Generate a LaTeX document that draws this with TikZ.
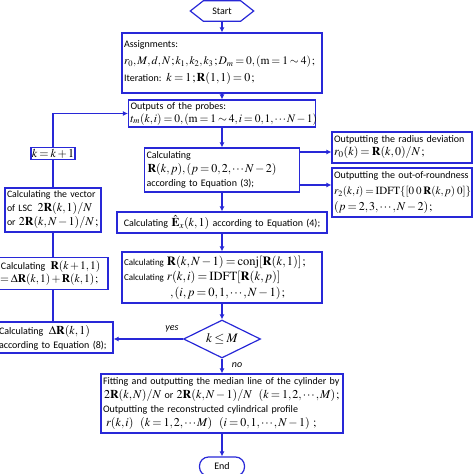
\documentclass[tikz,border=0pt]{standalone}
\usepackage{mathptmx}
\usepackage[no-math]{fontspec}
\setmainfont{Carlito}
\usetikzlibrary{shapes.geometric,arrows.meta}
\definecolor{bl}{RGB}{40,40,215}
\newcommand{\mth}[2][12]{\mbox{\fontsize{#1}{12}\selectfont\thickmuskip=3mu\medmuskip=2mu\thinmuskip=1.5mu$#2$}}
\begin{document}
\begin{tikzpicture}[x=1pt,y=-1pt,
  box/.style={draw=bl, line width=1.2pt, inner sep=2pt, align=left, font=\fontsize{10}{14}\selectfont},
  arr/.style={draw=bl, line width=1.2pt, -{Latex[length=5pt,width=5pt]}},
  ln/.style={draw=bl, line width=1.2pt},
  lab/.style={font=\fontsize{10}{11}\selectfont\itshape}]
\useasboundingbox (0,0) rectangle (474,474);
% main column
\node[minimum width=63pt, minimum height=20pt, inner sep=0, font=\fontsize{10}{11}\selectfont] (start) at (222,11) {Start};
\draw[bl, line width=1.2pt] (start.west) -- ([xshift=13pt]start.north west) -- ([xshift=-13pt]start.north east) -- (start.east) -- ([xshift=-13pt]start.south east) -- ([xshift=13pt]start.south west) -- cycle;
\node[box, text width=196pt, minimum height=60pt, font=\fontsize{10}{17}\selectfont] (assign) at (222,63)
  {Assignments:\\ \mth[11.5]{r_0,M,d,N\,;k_1,k_2,k_3\,;D_m=0,(\mathrm{m}=1\sim4)\,;}\\ Iteration: \mth{k=1\,;\mathbf{R}(1,1)=0\,;}};
\node[box, text width=183pt, minimum height=27pt, font=\fontsize{10}{13}\selectfont] (probes) at (222,113.5)
  {Outputs of the probes:\\ \mth[11.5]{t_m(k,i)=0,(\mathrm{m}=1\sim4,i=0,1,\cdots N-1)}};
\node[box, text width=151pt, minimum height=44pt] (calcR) at (222,170)
  {Calculating\\ \mth[12]{\,\mathbf{R}(k,p),(p=0,2,\cdots N-2)}\\ according to Equation (3);};
\node[box, text width=206pt, minimum height=21pt, align=center] (E) at (222,222.5)
  {Calculating \mth[12]{\hat{\mathbf{E}}_x(k,1)} according to Equation (4);};
\node[box, text width=196pt, minimum height=51pt, font=\fontsize{9}{15.5}\selectfont] (RN) at (222,277.5)
  {Calculating \mth[12.5]{\mathbf{R}(k,N-1)=\mathrm{conj}[\mathbf{R}(k,1)]\,;}\\ Calculating \mth[12.5]{r(k,i)=\mathrm{IDFT}[\mathbf{R}(k,p)]}\\ \hspace*{46pt}\mth[12.5]{,(i,p=0,1,\cdots,N-1)\,;}};
\node[draw=bl, line width=1.2pt, diamond, aspect=2, minimum width=77pt, minimum height=38pt, inner sep=0] (dec) at (222,339) {\mth[13]{k\le M}};
\node[box, text width=238pt, minimum height=59pt] (final) at (222,403.5)
  {Fitting and outputting the median line of the cylinder by\\ \mth[12]{\,2\mathbf{R}(k,N)/N} or \mth[12]{2\mathbf{R}(k,N-1)/N\ \ (k=1,2,\cdots,M)\,;}\\ Outputting the reconstructed cylindrical profile\\ \hspace*{3pt}\mth[12]{r(k,i)\ \ (k=1,2,\cdots M)\ \ (i=0,1,\cdots,N-1)\ ;}};
\node[draw=bl, line width=1.2pt, rounded corners=9pt, minimum width=45pt, minimum height=19pt, font=\fontsize{10}{11}\selectfont] (end) at (222,466.5) {End};
% right column
\node[box, text width=136pt, minimum height=31pt, font=\fontsize{10}{13}\selectfont] (radius) at (402,147.5)
  {Outputting the radius deviation\\ \mth{r_0(k)=\mathbf{R}(k,0)/N\,;}};
\node[box, text width=136pt, minimum height=49pt, font=\fontsize{10}{16}\selectfont] (oor) at (402,192.5)
  {Outputting the out-of-roundness\\ \mth[11]{r_2(k,i)=\mathrm{IDFT}\{[0\;0\;\mathbf{R}(k,p)\;0]\}}\\ \mth{(p=2,3,\cdots,N-2)\,;}};
% left column
\node[draw=bl, line width=1.2pt, inner sep=0pt, minimum width=44pt, minimum height=12pt] (kk) at (53,153.5) {\mth{k=k+1}};
\node[box, text width=92pt, minimum height=44pt, font=\fontsize{9.8}{14}\selectfont] (lsc) at (53,210)
  {Calculating the vector\\ of LSC \mth{\;2\mathbf{R}(k,1)/N}\\ or \mth{2\mathbf{R}(k,N-1)/N\,;}};
\node[box, text width=106pt, minimum height=32pt, font=\fontsize{10}{13}\selectfont] (Rk1) at (53,273.5)
  {\hspace*{1pt}Calculating \mth[11.5]{\;\mathbf{R}(k+1,1)}\\ \mth[11.5]{=\Delta\mathbf{R}(k,1)+\mathbf{R}(k,1)\,;}};
\node[box, text width=116pt, minimum height=31pt, font=\fontsize{10}{14}\selectfont] (dR) at (53,337.5)
  {\hspace*{4pt}Calculating \mth{\;\Delta\mathbf{R}(k,1)}\\ \hspace*{4pt}according to Equation (8);};
% connectors
\coordinate (r1) at ([yshift=-4.5pt]radius.west);
\coordinate (r2) at ([yshift=7.5pt]oor.west);
\draw[arr] (start.south) -- (assign.north);
\draw[arr] (assign.south) -- (probes.north);
\draw[arr] (probes.south) -- (calcR.north);
\draw[arr] (calcR.south) -- (E.north);
\draw[arr] (E.south) -- (RN.north);
\draw[arr] (RN.south) -- (dec.north);
\draw[arr] (dec.south) -- (final.north);
\draw[arr] (final.south) -- (end.north);
\draw[arr] (calcR.east |- r1) -- (r1);
\draw[arr] (calcR.east |- r2) -- (r2);
\draw[arr] (dec.west) -- (dec.west -| dR.east);
\draw[ln] (dR.north) -- (Rk1.south);
\draw[ln] (Rk1.north) -- (lsc.south);
\draw[ln] (lsc.north) -- (kk.south);
\draw[arr] (kk.north) |- (probes.west);
\node[lab] (yes) at (172,329) {yes};
\node[lab] (no) at (237,365) {no};
\end{tikzpicture}
\end{document}
